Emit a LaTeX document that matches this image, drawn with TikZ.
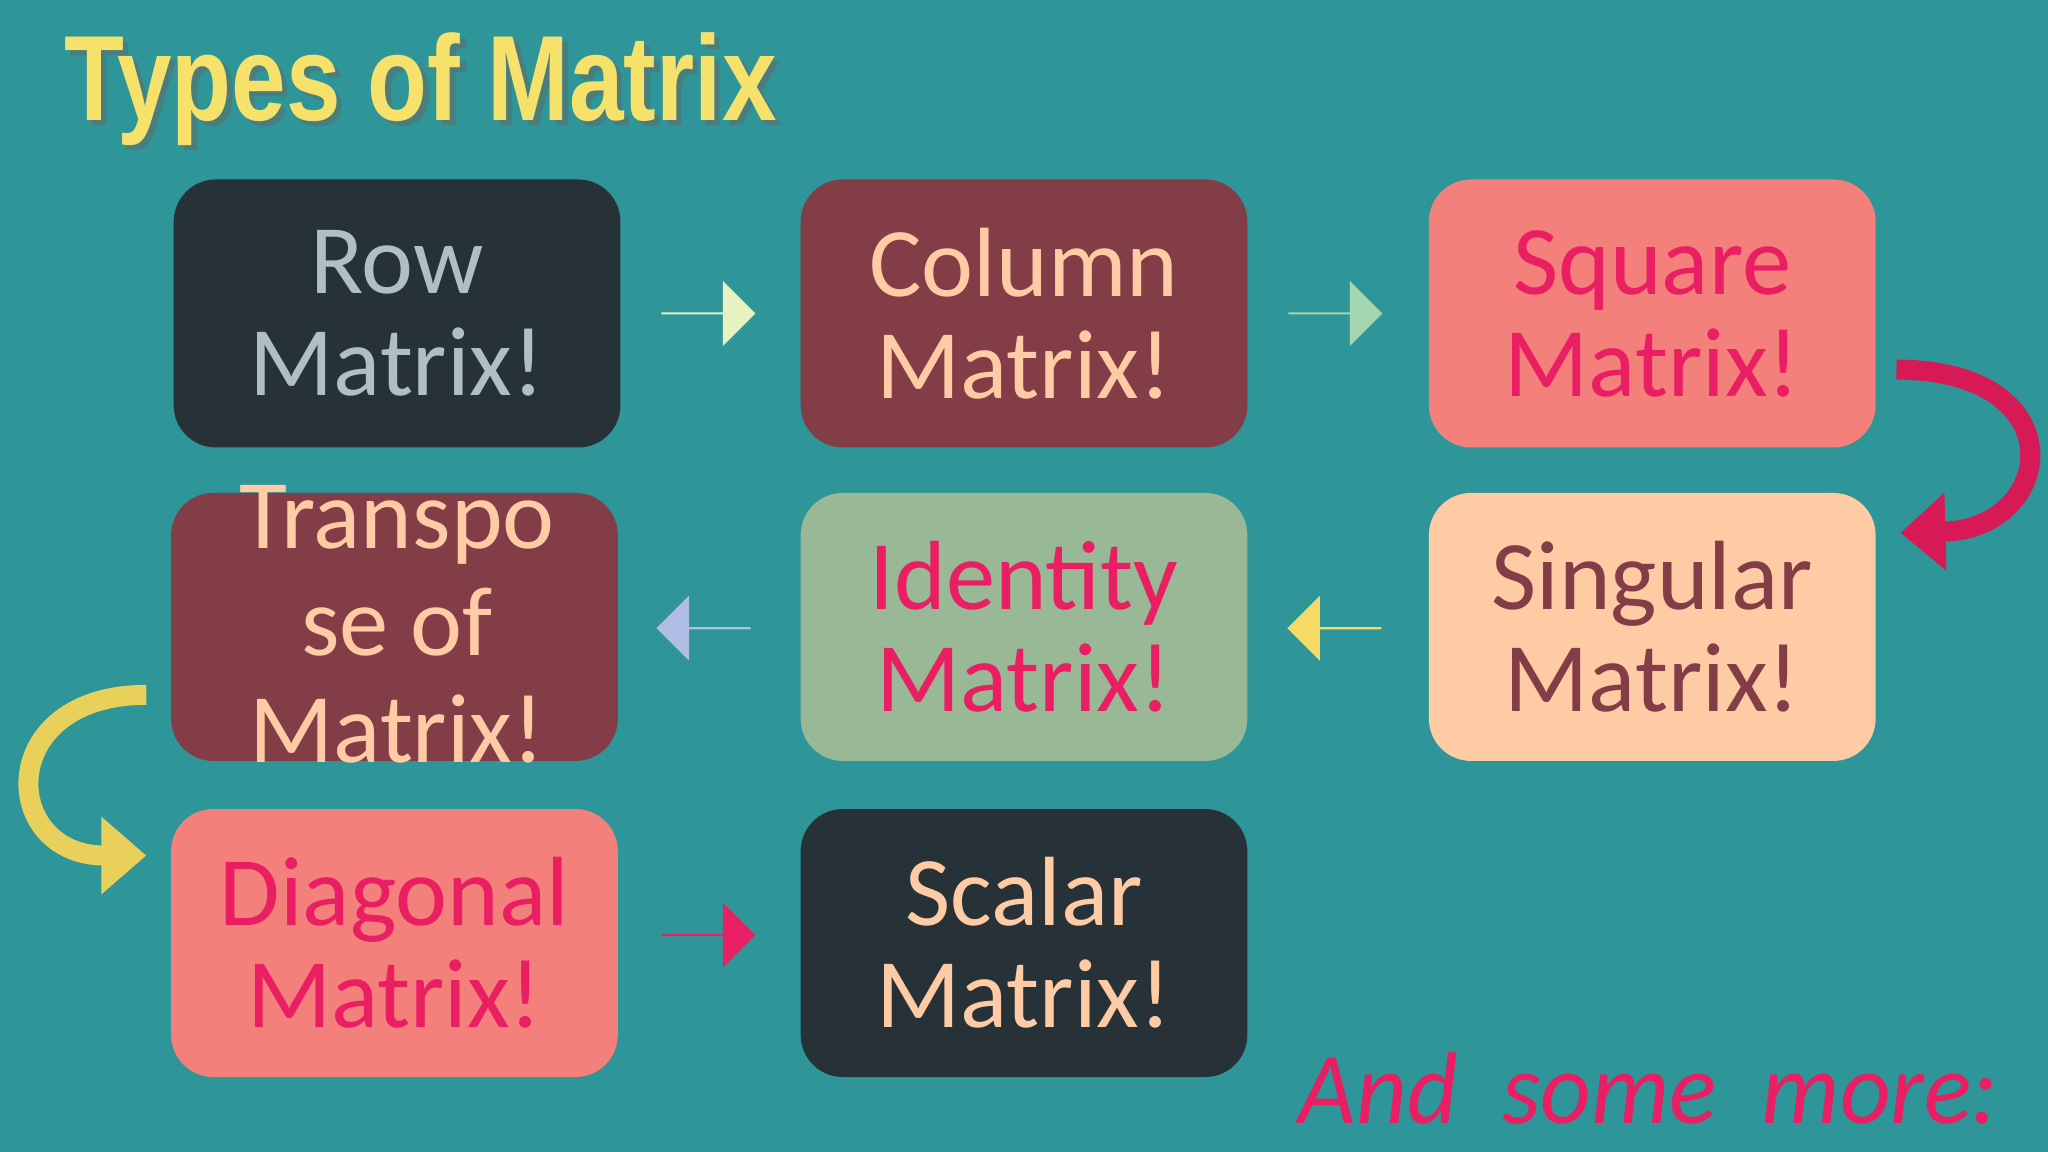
\documentclass[tikz,border=0pt]{standalone}
\usepackage{fontspec}
\setmainfont{Carlito}
\newfontfamily\titlefont{Liberation Sans}
\usetikzlibrary{shapes.arrows,arrows.meta}
\definecolor{bg}{HTML}{2E9598}
\definecolor{dk}{HTML}{263238}
\definecolor{mr}{HTML}{833D47}
\definecolor{sm}{HTML}{F3807A}
\definecolor{pc}{HTML}{FECBA5}
\definecolor{sg}{HTML}{98B896}
\definecolor{pk}{HTML}{E91E63}
\definecolor{lg}{HTML}{B0BEC5}
\definecolor{ttl}{HTML}{F6E16A}
\tikzset{
 x=0.013061cm,y=-0.013061cm,
 mbox/.style={rounded corners=12pt,minimum width=4.467cm,minimum height=2.68cm,align=center,font=\fontsize{28}{29}\selectfont,inner sep=0pt},
 barr/.style={single arrow,minimum width=0.65cm,minimum height=0.94cm,single arrow head extend=0.22cm,single arrow head indent=0pt,inner sep=0pt},
}
\begin{document}
\begin{tikzpicture}
\fill[bg] (0,0) rectangle (1568,882);
\useasboundingbox (0,0) rectangle (1568,882);
\node[anchor=west,font=\titlefont\bfseries\fontsize{30}{30}\selectfont,text=black!60,opacity=0.5] (tsh) at (44,72) {\scalebox{0.93}[1.15]{Types of Matrix}};
\node[anchor=west,font=\titlefont\bfseries\fontsize{30}{30}\selectfont,text=ttl] (title) at (40,68) {\scalebox{0.93}[1.15]{Types of Matrix}};
\node[mbox,fill=dk,text=lg] (row) at (304,240) {Row\\Matrix!};
\node[mbox,fill=mr,text=pc] (col) at (784,240) {Column\\Matrix!};
\node[mbox,fill=sm,text=pk] (sq) at (1265,240) {Square\\Matrix!};
\node[mbox,fill=mr,text=pc] (tr) at (302,480) {};
\node[text=pc,align=center,font=\fontsize{28}{30.5}\selectfont] (trt) at (304,478) {Transpo\\se of\\Matrix!};
\node[mbox,fill=sg,text=pk] (id) at (784,480) {Identity\\Matrix!};
\node[mbox,fill=pc,text=mr] (sing) at (1265,480) {Singular\\Matrix!};
\node[mbox,fill=sm,text=pk] (diag) at (302,722) {Diagonal\\Matrix!};
\node[mbox,fill=dk,text=pc] (sc) at (784,722) {Scalar\\Matrix!};
\node[barr,fill={rgb,255:red,230;green,243;blue,192}] (a1) at (542,240) {};
\node[barr,fill={rgb,255:red,165;green,214;blue,176}] (a2) at (1022,240) {};
\node[barr,shape border rotate=180,fill={rgb,255:red,176;green,190;blue,230}] (a3) at (539,481) {};
\node[barr,shape border rotate=180,fill={rgb,255:red,246;green,218;blue,102}] (a4) at (1022,481) {};
\node[barr,fill=pk] (a5) at (542,716) {};
\coordinate (c1s) at (1452,283);
\coordinate (c1e) at (1455,408);
\draw[line width=0.2cm,color={rgb,255:red,215;green,25;blue,85},-{Triangle[length=0.45cm,width=0.75cm]}] (c1s) .. controls (1590,283) and (1575,405) .. (c1e);
\coordinate (c2s) at (112,532);
\coordinate (c2e) at (112,655);
\draw[line width=0.2cm,color={rgb,255:red,232;green,208;blue,90},-{Triangle[length=0.45cm,width=0.75cm]}] (c2s) .. controls (-5,532) and (0,655) .. (c2e);
\node[anchor=base west,text=pk,font=\itshape\fontsize{29}{30}\selectfont] (more) at (985,860) {\scalebox{0.97}[1]{And\ \ some\ \ more:}};
\end{tikzpicture}
\end{document}
